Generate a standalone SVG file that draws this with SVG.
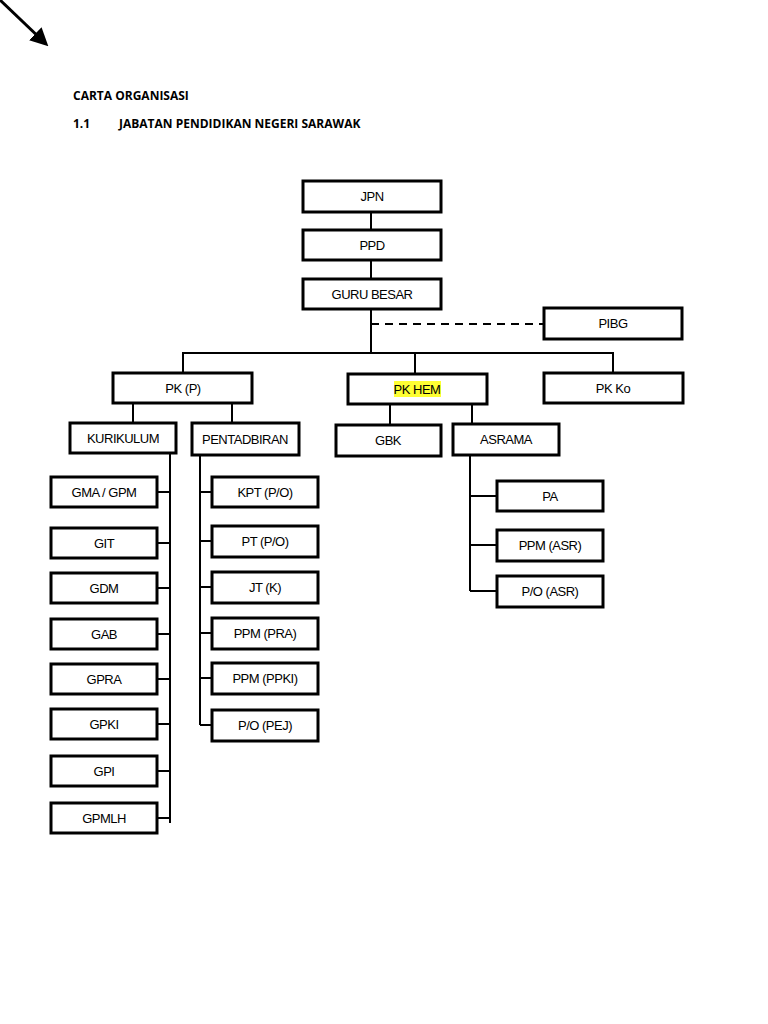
<svg xmlns="http://www.w3.org/2000/svg" width="768" height="1024" viewBox="0 0 768 1024">
<style>
.b{fill:#fff;stroke:#000;stroke-width:3}
.t{font-family:"Liberation Sans",Arial,sans-serif;font-size:13px;text-anchor:middle;letter-spacing:-0.5px}
.h{font-family:"Open Sans","Liberation Sans",sans-serif;font-size:12px;font-weight:bold}
.c line,.c path{stroke:#000;stroke-width:2;fill:none}
</style>
<defs><marker id="ah" markerWidth="6" markerHeight="6" refX="4" refY="3" orient="auto"><path d="M0,0L6,3L0,6z" fill="#000"/></marker></defs>
<rect width="768" height="1024" fill="#fff"/>
<line x1="0" y1="0" x2="44" y2="42" stroke="#000" stroke-width="3" marker-end="url(#ah)"/>
<text class="h" x="73" y="100">CARTA ORGANISASI</text>
<text class="h" x="73" y="128">1.1</text>
<text class="h" x="119" y="128">JABATAN PENDIDIKAN NEGERI SARAWAK</text>
<g class="c">
<path d="M371,212V353M183,373V353H613V373M415,353V374"/>
<line x1="371" y1="324" x2="544" y2="324" stroke-dasharray="8,6"/>
<path d="M133,403V423M232,403V423M390,404V425M472,404V424"/>
<path d="M170,453V823M157,492H170M157,543H170M157,588H170M157,634H170M157,679H170M157,724H170M157,771H170M157,818H170"/>
<path d="M200,455V725M200,492H212M200,541H212M200,587H212M200,633H212M200,678H212M200,725H212"/>
<path d="M470,455V591M470,496H497M470,545H497M470,591H497"/>
</g>
<g id="jpn"><rect class="b" x="303" y="181" width="138" height="31"/><text class="t" x="372" y="201">JPN</text></g>
<g id="ppd"><rect class="b" x="303" y="230" width="138" height="30"/><text class="t" x="372" y="250">PPD</text></g>
<g id="gb"><rect class="b" x="303" y="279" width="138" height="30"/><text class="t" x="372" y="299">GURU BESAR</text></g>
<g id="pibg"><rect class="b" x="544" y="308" width="138" height="31"/><text class="t" x="613" y="328">PIBG</text></g>
<g id="pkp"><rect class="b" x="113" y="373" width="139" height="30"/><text class="t" x="183" y="393">PK (P)</text></g>
<g id="pkhem"><rect class="b" x="348" y="374" width="139" height="30"/><rect x="394" y="381" width="47" height="16" fill="#ffff33"/><text class="t" x="417" y="394">PK HEM</text></g>
<g id="pkko"><rect class="b" x="544" y="373" width="139" height="30"/><text class="t" x="613" y="393">PK Ko</text></g>
<g id="kur"><rect class="b" x="70" y="423" width="106" height="30"/><text class="t" x="123" y="443">KURIKULUM</text></g>
<g id="pen"><rect class="b" x="192" y="423" width="107" height="32"/><text class="t" x="245" y="444">PENTADBIRAN</text></g>
<g id="gbk"><rect class="b" x="336" y="425" width="105" height="31"/><text class="t" x="388" y="445">GBK</text></g>
<g id="asr"><rect class="b" x="453" y="424" width="106" height="31"/><text class="t" x="506" y="444">ASRAMA</text></g>
<g id="gma"><rect class="b" x="51" y="477" width="106" height="30"/><text class="t" x="104" y="497">GMA / GPM</text></g>
<g id="git"><rect class="b" x="51" y="528" width="106" height="30"/><text class="t" x="104" y="548">GIT</text></g>
<g id="gdm"><rect class="b" x="51" y="573" width="106" height="30"/><text class="t" x="104" y="593">GDM</text></g>
<g id="gab"><rect class="b" x="51" y="619" width="106" height="30"/><text class="t" x="104" y="639">GAB</text></g>
<g id="gpra"><rect class="b" x="51" y="664" width="106" height="30"/><text class="t" x="104" y="684">GPRA</text></g>
<g id="gpki"><rect class="b" x="51" y="709" width="106" height="30"/><text class="t" x="104" y="729">GPKI</text></g>
<g id="gpi"><rect class="b" x="51" y="756" width="106" height="30"/><text class="t" x="104" y="776">GPI</text></g>
<g id="gpmlh"><rect class="b" x="51" y="803" width="106" height="30"/><text class="t" x="104" y="823">GPMLH</text></g>
<g id="kpt"><rect class="b" x="212" y="477" width="106" height="30"/><text class="t" x="265" y="497">KPT (P/O)</text></g>
<g id="pt"><rect class="b" x="212" y="526" width="106" height="31"/><text class="t" x="265" y="546">PT (P/O)</text></g>
<g id="jt"><rect class="b" x="212" y="572" width="106" height="31"/><text class="t" x="265" y="592">JT (K)</text></g>
<g id="ppmpra"><rect class="b" x="212" y="618" width="106" height="31"/><text class="t" x="265" y="638">PPM (PRA)</text></g>
<g id="ppmppki"><rect class="b" x="212" y="663" width="106" height="31"/><text class="t" x="265" y="683">PPM (PPKI)</text></g>
<g id="pej"><rect class="b" x="212" y="710" width="106" height="31"/><text class="t" x="265" y="730">P/O (PEJ)</text></g>
<g id="pa"><rect class="b" x="497" y="481" width="106" height="30"/><text class="t" x="550" y="501">PA</text></g>
<g id="ppmasr"><rect class="b" x="497" y="530" width="106" height="31"/><text class="t" x="550" y="550">PPM (ASR)</text></g>
<g id="poasr"><rect class="b" x="497" y="576" width="106" height="31"/><text class="t" x="550" y="596">P/O (ASR)</text></g>
</svg>
